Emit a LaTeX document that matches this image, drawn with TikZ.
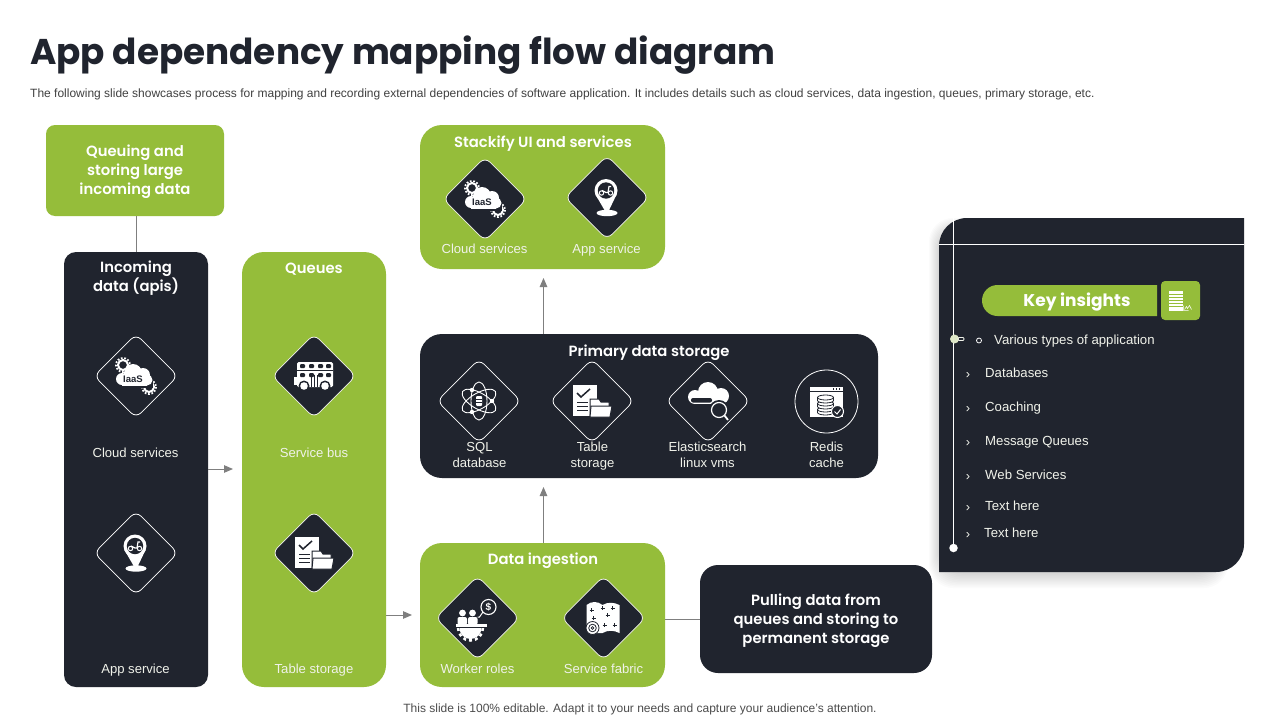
\documentclass[tikz,border=0pt]{standalone}
\usepackage{fontspec}
\setmainfont{Liberation Sans}
\newfontfamily\headfont{Poppins}
\newfontfamily\subheadfont{Poppins SemiBold}
\usepackage{tikz}
\usetikzlibrary{arrows.meta, shapes.geometric, shapes.misc}
\definecolor{darkc}{HTML}{20242E}
\definecolor{greenc}{HTML}{95BD3A}
\definecolor{linkc}{HTML}{7F7F7F}
\definecolor{textc}{HTML}{F0F2EA}
\tikzset{
  box/.style={inner sep=0pt, text=white},
  greenbox/.style={box, fill=greenc},
  darkbox/.style={box, fill=darkc},
  struts/.style={yshift=-2pt, execute at begin node=\strut, execute at end node=\strut},
  heading/.style={struts, text=white, align=center, inner sep=0pt, font=\subheadfont\fontsize{14.8}{19}\selectfont},
  caption/.style={struts, text=textc, align=center, inner sep=0pt, font=\fontsize{13.1}{16}\selectfont},
  keyitem/.style={struts, text=textc, anchor=west, inner sep=0pt, font=\fontsize{13.2}{16}\selectfont},
  chevron/.style={struts, text=textc, inner sep=0pt, font=\fontsize{13}{16}\selectfont},
  dialine/.style={diamond, aspect=1, draw=white, line width=0.8pt, fill=darkc, minimum size=84pt, inner sep=0pt, rounded corners=7pt},
  link/.style={draw=linkc, line width=1pt},
  arrowlink/.style={link, -{Triangle[length=9pt,width=7.5pt]}},
  wire/.style={draw=white, line width=0.9pt, fill=none},
  solid white/.style={fill=white, draw=none},
  solid dark/.style={fill=darkc, draw=none},
  % icons, drawn round the centre of their diamond
  iaasicon/.pic={
    \draw[white, line width=2pt] (-13,-11) circle (5);
    \draw[white, line width=1.8pt, dash pattern=on 1.7pt off 1.7pt] (-13,-11) circle (7);
    \draw[white, line width=2pt] (13,11) circle (5);
    \draw[white, line width=1.8pt, dash pattern=on 1.7pt off 1.7pt] (13,11) circle (7);
    \fill[darkc] (-2,-1) rectangle (17,11.5);
    \path[solid white] (-3,-3) circle (9);
    \path[solid white] (7,-1) circle (7);
    \path[solid white] (-14,3) circle (6);
    \path[solid white] (11,4) circle (5.5);
    \path[solid white] (-14,-1) rectangle (11,9.5);
    \node[text=darkc, inner sep=0pt, font=\fontsize{9.5}{10}\selectfont\bfseries] (iaaslabel) at (-3,3) {IaaS};
  },
  pinicon/.pic={
    \path[solid white] (-1,-7) circle (11.5);
    \path[solid white] (-11.5,-3) -- (9.5,-3) -- (0,17) -- cycle;
    \path[solid white] (0,15.5) ellipse (10.5 and 3.2);
    \path[solid dark] (-1,-7) circle (8.2);
    \draw[white, line width=1pt] (-5.5,-4.5) circle (2.2);
    \draw[white, line width=1pt] (3.5,-4.5) circle (2.2);
    \draw[white, line width=1.2pt] (-5,-7) -- (-1,-5) -- (1,-5) -- (2,-11) -- (4,-11);
  },
  busicon/.pic={
    \path[solid white, rounded corners=1.5pt] (-17,-14) rectangle (19,11);
    \path[solid white] (-20,1) rectangle (-15,9);
    \foreach \wx in {-14,-5,4,12} {
      \path[solid dark, rounded corners=1pt] (\wx,-12) rectangle ++(5,4);
      \path[solid dark, rounded corners=1pt] (\wx,-3) rectangle ++(5,4);
    }
    \path[solid dark] (-17,-6) rectangle (19,-5);
    \path[solid dark] (-3,-1) rectangle (-1.8,11);
    \path[solid dark] (0,-1) rectangle (1.2,11);
    \path[solid dark] (3,-1) rectangle (4.2,11);
    \path[solid dark] (-10,10) circle (5.5);
    \path[solid dark] (11,10) circle (5.5);
    \path[solid white] (-10,10) circle (3.8);
    \path[solid white] (11,10) circle (3.8);
  },
  tableicon/.pic={
    \path[solid white] (-19,-16) rectangle (5,15);
    \draw[darkc, line width=1.5pt] (-15,-8) -- (-11,-4) -- (-2,-12);
    \draw[darkc, line width=1pt] (-15,1) -- (-4,1) (-15,5) -- (-4,5) (-15,9) -- (-4,9);
    \path[fill=white, draw=darkc, line width=1pt] (-2,16) -- (-2,-2) -- (7,-2) -- (9,1) -- (17,1) -- (17,16) -- cycle;
    \path[fill=white, draw=darkc, line width=1pt] (-2,16) -- (-1,5) -- (20,5) -- (18,16) -- cycle;
  },
  atomicon/.pic={
    \foreach \ang in {30,90,150}
      \draw[wire, rotate=\ang] (0,0) ellipse (19 and 8);
    \path[solid white] (-7,-11) circle (2.2);
    \path[solid white] (-7,11) circle (2.2);
    \path[solid white] (13,0) circle (2.2);
    \path[solid white, rounded corners=1pt] (-3,-5) rectangle (3,5);
    \draw[darkc, line width=0.5pt] (-3,-2) -- (3,-2) (-3,1) -- (3,1);
  },
  searchicon/.pic={
    \path[solid white] (0,-9) circle (10);
    \path[solid white] (13,-5) circle (8);
    \path[solid white] (-13,-4) circle (7);
    \path[solid white] (-13,-4) rectangle (15,3);
    \path[solid dark, rounded corners=2pt] (-17,-3) rectangle (4,1.5);
    \path[solid dark] (11,9) circle (10);
    \draw[wire, line width=1.2pt] (11,9) circle (7.5);
    \draw[white, line width=1.8pt] (16.5,14.5) -- (20,19);
  },
  redisicon/.pic={
    \path[solid white] (-17,-15) rectangle (16,15);
    \path[solid dark] (-17,-10.5) rectangle (16,-10);
    \path[solid dark] (6,-13.5) rectangle ++(1.5,1.5);
    \path[solid dark] (9,-13.5) rectangle ++(1.5,1.5);
    \path[solid dark] (12,-13.5) rectangle ++(1.5,1.5);
    \foreach \cy in {8,2,-4} {
      \path[fill=white, draw=darkc, line width=0.8pt] (-9,\cy) -- (-9,\cy+3) arc[start angle=180, end angle=360, x radius=8, y radius=-2.5] -- (7,\cy) -- cycle;
      \path[fill=white, draw=darkc, line width=0.8pt] (-1,\cy) ellipse (8 and 2.5);
    }
    \path[fill=darkc, draw=white, line width=1pt] (11,10) circle (6);
    \draw[white, line width=1pt] (8,10) -- (10.5,12.5) -- (14,8);
  },
  workericon/.pic={
    \path[solid white] (-15,-5) circle (3.4);
    \path[solid white] (-5,-5) circle (3.4);
    \path[solid white, rounded corners=2pt] (-20,-1) rectangle (-10.5,7);
    \path[solid white, rounded corners=2pt] (-9.5,-1) rectangle (0,7);
    \path[solid white] (-22,6) rectangle (9,9);
    \begin{scope}
      \clip (-25,10.5) rectangle (15,30);
      \path[solid white] (-7,10) circle (11);
      \draw[white, line width=2.5pt, dash pattern=on 3pt off 3pt] (-7,10) circle (12.5);
    \end{scope}
    \draw[wire, line width=1.1pt] (11,-11) circle (7.5);
    \draw[white, line width=1pt] (5.5,-6) -- (2,-1) -- (0,-1);
    \node[text=white, inner sep=0pt, font=\fontsize{10}{10}\selectfont\bfseries] (coinlabel) at (11,-11) {\$};
  },
  mapicon/.pic={
    \path[solid white] (-17,-13) .. controls (-12,-17) and (-6,-17) .. (-1,-13) .. controls (4,-16) and (10,-16) .. (16,-13) -- (16,15) .. controls (10,12) and (4,12) .. (-1,15) -- (-8,15) -- (-17,8) -- cycle;
    \foreach \sx/\sy in {-12/-8,-1/-10,9/-10,4/-3,-10/0,1/7,11/7}
      \draw[darkc, line width=0.8pt] (\sx-2,\sy) -- (\sx+2,\sy) (\sx,\sy-2) -- (\sx,\sy+2);
    \path[fill=white, draw=darkc, line width=0.8pt] (-11,10) circle (6.5);
    \draw[darkc, line width=0.8pt] (-11,10) circle (3.8);
    \draw[darkc, line width=0.8pt] (-11,10) circle (1.4);
  },
  reporticon/.pic={
    \path[fill=white, draw=none] (-12,-10) rectangle (2,10);
    \draw[greenc, line width=0.6pt] (-12,-6) -- (2,-6) (-12,-3) -- (2,-3) (-12,0) -- (2,0) (-12,3) -- (2,3) (-12,6) -- (2,6);
    \draw[white, line width=0.5pt] (3,5) -- (3,10) -- (8,10) (4,9) -- (6,6) -- (7,8) -- (9,5) -- (11,9);
  },
}
\begin{document}
\begin{tikzpicture}[x=1pt, y=-1pt]
\useasboundingbox (0,0) rectangle (1280,720);
\fill [white] (0,0) rectangle (1280,720);                 % slide background

\node [anchor=west, inner sep=0pt, text=darkc, font=\headfont\fontsize{35.8}{40}\selectfont\bfseries] (title) at (30,55) {App dependency mapping flow diagram};
\node [anchor=west, inner sep=0pt, text=black!75, font=\fontsize{12}{14}\selectfont] (subtitle) at (30,94) {The following slide showcases process for mapping and recording external dependencies of software application. It includes details such as cloud services, data ingestion, queues, primary storage, etc.};
\node [inner sep=0pt, text=black!70, font=\fontsize{12}{14}\selectfont] (footnote) at (640,709.5) {This slide is 100\% editable. Adapt it to your needs and capture your audience's attention.};

% main boxes
\node [greenbox, rounded corners=9pt, minimum width=178pt, minimum height=91pt] (queuing) at (135,170.5) {};
\node [darkbox, rounded corners=12pt, minimum width=144pt, minimum height=435pt] (incoming) at (136,469.5) {};
\node [greenbox, rounded corners=22pt, minimum width=144pt, minimum height=435pt] (queues) at (314,469.5) {};
\node [greenbox, rounded corners=22pt, minimum width=245pt, minimum height=144pt] (stackify) at (542.5,197) {};
\node [darkbox, rounded corners=22pt, minimum width=458pt, minimum height=144pt] (primary) at (649,406) {};
\node [greenbox, rounded corners=22pt, minimum width=245pt, minimum height=144pt] (ingestion) at (542.5,615) {};
\node [darkbox, rounded corners=18pt, minimum width=232pt, minimum height=108pt] (pulling) at (816,619) {};

% connectors
\coordinate (incomingout) at (233,469);
\coordinate (ingestionin) at (412,615);
\coordinate (primaryin) at (543.5,487);
\coordinate (stackifyin) at (543.5,278);
\draw [link] (queuing.south -| 136.5,0) -- (incoming.north -| 136.5,0);
\draw [arrowlink] (incoming.east |- incomingout) -- (incomingout);
\draw [arrowlink] (queues.east |- ingestionin) -- (ingestionin);
\draw [arrowlink] (ingestion.north -| primaryin) -- (primaryin);
\draw [arrowlink] (primary.north -| stackifyin) -- (stackifyin);
\draw [link] (ingestion.east |- 0,619) -- (pulling.west);

% headings
\node [heading] (queuingtext) at (135,171) {Queuing and\\storing large\\incoming data};
\node [heading] (incomingtext) at (136,277.5) {Incoming\\data (apis)};
\node [heading] (queuestext) at (314,268) {Queues};
\node [heading] (stackifytext) at (543,142) {Stackify UI and services};
\node [heading] (primarytext) at (649,351) {Primary data storage};
\node [heading] (ingestiontext) at (543,559) {Data ingestion};
\node [heading] (pullingtext) at (816,620) {Pulling data from\\queues and storing to\\permanent storage};

% incoming data column
\node [dialine] (cloudone) at (136,376) {};
\pic at (136,376) {iaasicon};
\node [caption] (cloudonetext) at (135.5,452.5) {Cloud services};
\node [dialine] (appone) at (136,553) {};
\pic at (136,553) {pinicon};
\node [caption] (apponetext) at (135.5,668.5) {App service};

% queues column
\node [dialine, draw=textc] (servicebus) at (314,376) {};
\pic at (314,376) {busicon};
\node [caption] (servicebustext) at (314,452.5) {Service bus};
\node [dialine, draw=textc] (tableone) at (314,553) {};
\pic at (314,553) {tableicon};
\node [caption] (tableonetext) at (314,668.5) {Table storage};

% stackify box
\node [dialine, draw=textc] (cloudtwo) at (485,199) {};
\pic at (485,199) {iaasicon};
\node [caption] (cloudtwotext) at (484.5,248.5) {Cloud services};
\node [dialine, draw=textc] (apptwo) at (607,197.5) {};
\pic at (607,197.5) {pinicon};
\node [caption] (apptwotext) at (606.5,248.5) {App service};

% primary data storage box
\node [dialine] (sqldb) at (479,401) {};
\pic at (479,401) {atomicon};
\node [caption] (sqldbtext) at (479.5,455.5) {SQL\\database};
\node [dialine] (tabletwo) at (592,401) {};
\pic at (592,401) {tableicon};
\node [caption] (tabletwotext) at (592.5,455.5) {Table\\storage};
\node [dialine] (elastic) at (708,401) {};
\pic at (708,401) {searchicon};
\node [caption] (elastictext) at (707.5,455.5) {Elasticsearch\\linux vms};
\node [circle, draw=white, line width=0.8pt, minimum size=63pt, inner sep=0pt] (redis) at (826.5,401.5) {};
\pic at (826.5,401.5) {redisicon};
\node [caption] (redistext) at (826.5,455.5) {Redis\\cache};

% data ingestion box
\node [dialine, draw=textc] (worker) at (477.5,618) {};
\pic at (477.5,618) {workericon};
\node [caption] (workertext) at (477.5,668.5) {Worker roles};
\node [dialine, draw=textc] (fabric) at (603.5,618) {};
\pic at (603.5,618) {mapicon};
\node [caption] (fabrictext) at (603.5,668.5) {Service fabric};

% key insights panel
\foreach \s in {1,...,12}
  \fill [black, opacity=0.016, rounded corners=24pt] (941-\s,230-\s) rectangle (1216+\s,570+1.5*\s);
\fill [darkc] (939,572) [rounded corners=28pt] -- (939,218) [sharp corners] -- (1244,218) [rounded corners=28pt] -- (1244,572) [sharp corners] -- cycle;
\coordinate (railtop) at (953.5,218);
\coordinate (crossleft) at (939,244);
\coordinate (crossright) at (1244,244);
\node [circle, fill=white, minimum size=8.5pt, inner sep=0pt] (railend) at (953.5,548) {};
\draw [white, line width=1pt] (railtop) -- (railend);
\draw [white, line width=1pt] (crossleft) -- (crossright);
\node [rounded rectangle, rounded rectangle east arc=none, fill=greenc, text=white, minimum width=175pt, minimum height=31pt, inner sep=0pt, font=\headfont\fontsize{17}{20}\selectfont\bfseries] (keyinsights) at (1069.5,300.5) {\hspace{15pt}\smash{\raisebox{-6pt}{Key insights}}};
\node [greenbox, rounded corners=4pt, minimum size=39pt] (keyicon) at (1180.5,300.5) {};
\pic at (1180.5,300.5) {reporticon};
\node [circle, fill=textc!80!greenc, minimum size=9pt, inner sep=0pt] (raildot) at (954.5,339) {};
\draw [draw=textc, line width=0.8pt, rounded corners=1pt] (958,337.5) rectangle (964,340.5);
\node [circle, draw=white, line width=0.8pt, minimum size=5pt, inner sep=0pt] (mainbullet) at (979,340.5) {};
\node [keyitem] (itemmain) at (994,339.5) {Various types of application};
\node [chevron] (chevone) at (968,373) {›};
\node [keyitem] (itemone) at (985,372.5) {Databases};
\node [chevron] (chevtwo) at (968,407) {›};
\node [keyitem] (itemtwo) at (985,406.5) {Coaching};
\node [chevron] (chevthree) at (968,441) {›};
\node [keyitem] (itemthree) at (985,440.5) {Message Queues};
\node [chevron] (chevfour) at (968,475) {›};
\node [keyitem] (itemfour) at (985,474.5) {Web Services};
\node [chevron] (chevfive) at (968,506) {›};
\node [keyitem] (itemfive) at (985,505.5) {Text here};
\node [chevron] (chevsix) at (968,533) {›};
\node [keyitem] (itemsix) at (984,532.5) {Text here};
\end{tikzpicture}
\end{document}
